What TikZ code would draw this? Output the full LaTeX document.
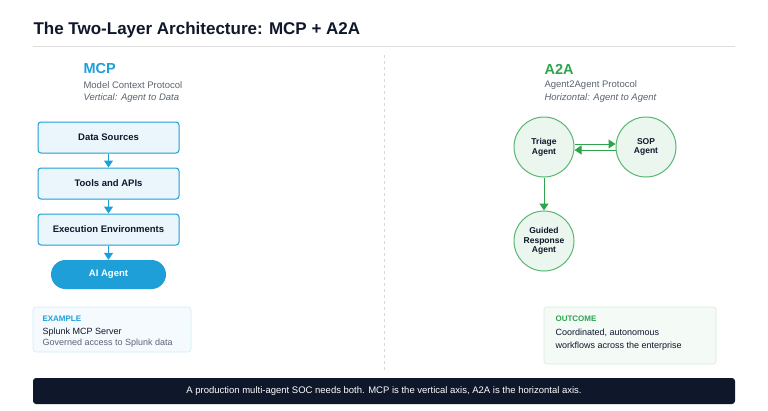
\documentclass[tikz,border=0pt]{standalone}
\usepackage{fontspec}
\setmainfont{Liberation Sans}
\usetikzlibrary{arrows.meta,positioning}
\definecolor{mcpblue}{HTML}{1E9FD8}
\definecolor{mcpfill}{HTML}{EAF5FC}
\definecolor{agreen}{HTML}{2EA44F}
\definecolor{gfill}{HTML}{EAF6EE}
\definecolor{txtgray}{HTML}{5B6472}
\definecolor{navy}{HTML}{0F172A}
\tikzset{
  layer/.style={draw=mcpblue, line width=1pt, fill=mcpfill, rounded corners=3pt,
    minimum width=141pt, minimum height=31pt, font=\fontsize{9.5}{11}\selectfont\bfseries, text=navy},
  agent/.style={draw=agreen!80, line width=1pt, fill=gfill, circle, minimum size=60pt,
    align=center, font=\fontsize{8.5}{9.8}\selectfont\bfseries, text=navy},
  note/.style={rounded corners=3pt, line width=0.6pt, anchor=north west},
  flow/.style={-{Triangle[length=7pt,width=9pt]}, line width=1pt},
}
\begin{document}
\begin{tikzpicture}[x=1pt,y=-1pt]
    \useasboundingbox[fill=white] (0,0) rectangle (768,410);

    \node[anchor=west, font=\fontsize{17}{20}\selectfont\bfseries, text=navy] (title) at (30,30) {The Two-Layer Architecture: MCP + A2A};
    \draw[gray!25, line width=0.8pt] (33,46) -- (735,46);
    \draw[gray!30, dashed, line width=0.5pt] (384,55) -- (384,370);

    % left: MCP
    \node[anchor=west, font=\fontsize{14.5}{16}\selectfont\bfseries, text=mcpblue] (mcp) at (80,69) {MCP};
    \node[anchor=west, font=\fontsize{9.5}{11}\selectfont, text=txtgray] (mcpsub) at (80,85) {Model Context Protocol};
    \node[anchor=west, font=\fontsize{9.5}{11}\selectfont\itshape, text=txtgray] (mcpdir) at (80,98) {Vertical: Agent to Data};

    \node[layer] (data) at (108.5,137.5) {Data Sources};
    \node[layer] (tools) at (108.5,183.5) {Tools and APIs};
    \node[layer] (exec) at (108.5,229.5) {Execution Environments};
    \node[fill=mcpblue, rounded corners=14.5pt, minimum width=115pt, minimum height=29pt,
      font=\fontsize{9.5}{11}\selectfont\bfseries, text=white] (agent) at (108.5,274.5) {AI Agent};
    \draw[flow, mcpblue] (data) -- (tools);
    \draw[flow, mcpblue] (tools) -- (exec);
    \draw[flow, mcpblue] (exec) -- (agent);

    \draw[note, draw=mcpblue!20, fill=mcpfill!50] (33,307) rectangle (191,352);
    \node[anchor=west, font=\fontsize{8}{9}\selectfont\bfseries, text=mcpblue] (exlbl) at (39,319) {EXAMPLE};
    \node[anchor=west, font=\fontsize{9}{10}\selectfont, text=navy] (ex1) at (39,332) {Splunk MCP Server};
    \node[anchor=west, font=\fontsize{9}{10}\selectfont, text=txtgray] (ex2) at (39,343.5) {Governed access to Splunk data};

    % right: A2A
    \node[anchor=west, font=\fontsize{14.5}{16}\selectfont\bfseries, text=agreen] (a2a) at (541,69) {A2A};
    \node[anchor=west, font=\fontsize{9.5}{11}\selectfont, text=txtgray] (a2asub) at (541,85) {Agent2Agent Protocol};
    \node[anchor=west, font=\fontsize{9.5}{11}\selectfont\itshape, text=txtgray] (a2adir) at (541,98) {Horizontal: Agent to Agent};

    \node[agent] (triage) at (544,147) {Triage\\Agent};
    \node[agent] (sop) at (646,147) {SOP\\Agent};
    \node[agent] (guided) at (544,241) {Guided\\Response\\Agent};
    \draw[flow, agreen] ([yshift=3pt]triage.east) -- ([yshift=3pt]sop.west);
    \draw[flow, agreen] ([yshift=-3pt]sop.west) -- ([yshift=-3pt]triage.east);
    \draw[flow, agreen] (triage) -- (guided);

    \draw[note, draw=agreen!20, fill=gfill!50] (544,307) rectangle (716,364);
    \node[anchor=west, font=\fontsize{8}{9}\selectfont\bfseries, text=agreen] (outlbl) at (552,319) {OUTCOME};
    \node[anchor=west, font=\fontsize{9}{10}\selectfont, text=navy] (out1) at (552,333) {Coordinated, autonomous};
    \node[anchor=west, font=\fontsize{9}{10}\selectfont, text=navy] (out2) at (552,346) {workflows across the enterprise};

    % footer
    \node[fill=navy, rounded corners=3pt, minimum width=702pt, minimum height=26pt,
      font=\fontsize{9.5}{11}\selectfont, text=white] (footer) at (384,391) {A production multi-agent SOC needs both. MCP is the vertical axis, A2A is the horizontal axis.};
\end{tikzpicture}
\end{document}
